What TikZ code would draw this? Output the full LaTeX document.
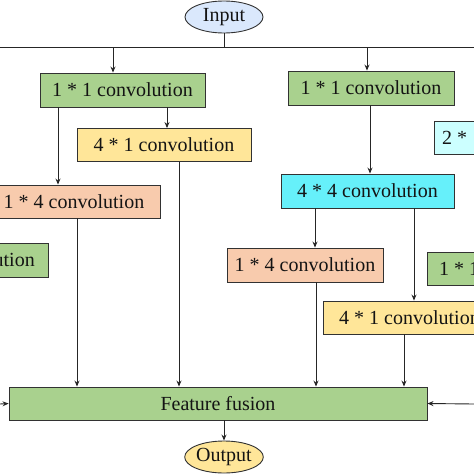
\documentclass[tikz,border=0pt]{standalone}
\usepackage{fontspec}
\setmainfont{Liberation Serif}
\usetikzlibrary{shapes.geometric,arrows.meta}
\definecolor{gfill}{RGB}{169,209,142}
\definecolor{yfill}{RGB}{255,230,153}
\definecolor{ofill}{RGB}{248,203,173}
\definecolor{cfill}{RGB}{102,240,250}
\definecolor{lcfill}{RGB}{204,255,255}
\definecolor{bfill}{RGB}{218,232,252}
\definecolor{edge}{RGB}{50,50,50}
\definecolor{txt}{RGB}{20,20,20}
\tikzset{
  box/.style={draw=edge, line width=0.9pt, rectangle, minimum height=33pt, inner sep=0pt,
    text=txt, font=\fontsize{20}{24}\selectfont},
  oval/.style={draw=edge, line width=0.9pt, ellipse, minimum width=78pt, minimum height=32pt,
    inner sep=0pt, text=txt, font=\fontsize{20}{24}\selectfont},
  lbl/.style={inner sep=0pt, text=txt, font=\fontsize{20}{24}\selectfont},
  conn/.style={draw=black!85, line width=0.9pt},
  arr/.style={conn, -{Stealth[length=6pt,width=5pt]}},
}
\begin{document}
\begin{tikzpicture}[x=1pt,y=-1pt]
\useasboundingbox (0,0) rectangle (474,474);
\clip (0,0) rectangle (474,474);
% nodes
\node[oval, fill=bfill] (in) at (224,17) {Input};
\node[box, fill=gfill, minimum width=165pt, minimum height=34pt] (g1) at (122.5,90) {1 * 1 convolution};
\node[box, fill=yfill, minimum width=174pt] (y1) at (164,145) {4 * 1 convolution};
\node[box, fill=ofill, minimum width=172pt] (o1) at (74,201.5) {1 * 4 convolution};
\node[box, fill=gfill, minimum width=165pt, minimum height=34pt] (gL) at (-34.5,260) {};
\node[lbl, anchor=east] (gLt) at (35,260) {ution};
\node[box, fill=gfill, minimum width=166pt, minimum height=34pt] (g2) at (371,88) {1 * 1 convolution};
\node[box, fill=lcfill, minimum width=156pt] (c2) at (512,137.5) {};
\node[lbl, anchor=west] (c2t) at (442,137.5) {2 *};
\node[box, fill=cfill, minimum width=173pt, minimum height=34pt] (c1) at (367.5,191) {4 * 4 convolution};
\node[box, fill=ofill, minimum width=156pt, minimum height=34pt] (o2) at (305,265) {1 * 4 convolution};
\node[box, fill=gfill, minimum width=164pt] (gR) at (509,268.5) {};
\node[lbl, anchor=west] (gRt) at (439,268.5) {1 * 1};
\node[box, fill=yfill, minimum width=173pt] (y2) at (409.5,317.5) {4 * 1 convolution};
\node[box, fill=gfill, minimum width=418pt] (ff) at (218,403.5) {Feature fusion};
\node[oval, fill=yfill] (out) at (224,457) {Output};
% helper coordinates
\coordinate (hl) at (0,47);
\coordinate (hr) at (474,47);
\coordinate (jn) at (224,47);
\coordinate (xa) at (113,0);
\coordinate (xb) at (367,0);
\coordinate (x58) at (58,0);
\coordinate (x167) at (167,0);
\coordinate (x77) at (77,0);
\coordinate (x179) at (179,0);
\coordinate (x370) at (370,0);
\coordinate (x315) at (315,0);
\coordinate (x414) at (414,0);
\coordinate (x316) at (316,0);
\coordinate (x404) at (404,0);
\coordinate (lin) at (0,404);
\coordinate (rin) at (474,404);
% connectors
\draw[conn] (in.south) -- (jn);
\draw[conn] (hl) -- (hr);
\draw[arr] (hl -| xa) -- (g1.north -| xa);
\draw[arr] (hl -| xb) -- (g2.north -| xb);
\draw[arr] (g1.south -| x58) -- (o1.north -| x58);
\draw[arr] (g1.south -| x167) -- (y1.north -| x167);
\draw[arr] (o1.south -| x77) -- (ff.north -| x77);
\draw[arr] (y1.south -| x179) -- (ff.north -| x179);
\draw[arr] (g2.south -| x370) -- (c1.north -| x370);
\draw[arr] (c1.south -| x315) -- (o2.north -| x315);
\draw[arr] (c1.south -| x414) -- (y2.north -| x414);
\draw[arr] (o2.south -| x316) -- (ff.north -| x316);
\draw[arr] (y2.south -| x404) -- (ff.north -| x404);
\draw[arr] (lin) -- (ff.west);
\draw[arr] (rin) -- (ff.east);
\draw[arr] (ff.south -| in) -- (out.north);
\end{tikzpicture}
\end{document}
